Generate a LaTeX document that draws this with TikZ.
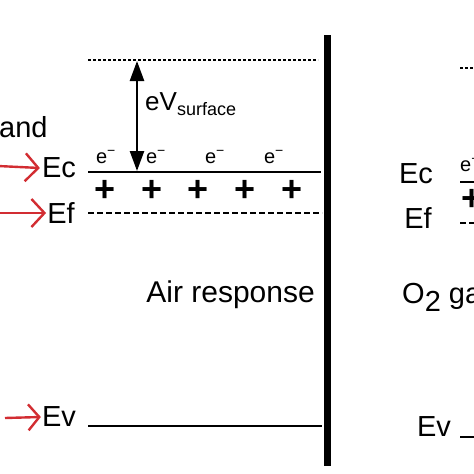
\documentclass[tikz,border=0pt]{standalone}
\usepackage{fontspec}
\setmainfont{Liberation Sans}
\usetikzlibrary{arrows.meta}
\definecolor{redarrow}{RGB}{210,45,50}
\begin{document}
\begin{tikzpicture}[x=1pt,y=-1pt,
  lbl/.style={inner sep=0pt, font=\fontsize{29}{29}\selectfont},
  elec/.style={inner sep=0pt, font=\fontsize{20}{20}\selectfont},
  plus/.style={inner sep=0pt, font=\fontsize{36}{36}\selectfont\bfseries},
  level/.style={line width=2.5pt},
  dotl/.style={line width=2.5pt, dash pattern=on 2.5pt off 2.5pt},
  dashl/.style={line width=2.5pt, dash pattern=on 6pt off 3pt},
  redarr/.style={redarrow, line width=2.4pt, -{Straight Barb[length=13pt,width=28pt,line width=2.4pt]}},
  bar/.style={line width=7pt}]
\useasboundingbox (0,0) rectangle (474,474);

% left labels
\node[lbl, anchor=west] (band) at (-1,127) {and};
\node[lbl] (ec) at (59,168) {Ec};
\node[lbl] (ef) at (61,213) {Ef};
\node[lbl] (ev) at (59,417) {Ev};
\coordinate (ecs) at (-2,166);
\coordinate (efs) at (-2,213);
\coordinate (evs) at (5,418);
\draw[redarr] (ecs) -- ([xshift=-2pt]ec.west);
\draw[redarr] (efs) -- ([xshift=-1pt]ef.west);
\draw[redarr, -{Straight Barb[length=11pt,width=26pt,line width=2.4pt]}] (evs) -- ([xshift=-1pt]ev.west);

% band levels
\coordinate (vl) at (88,60);  \coordinate (vr) at (318,60);
\coordinate (cl) at (88,172); \coordinate (cr) at (321,172);
\coordinate (fl) at (88,213); \coordinate (fr) at (322,213);
\coordinate (bl) at (88,426); \coordinate (br) at (322,426);
\draw[dotl] (vl) -- (vr);
\draw[level] (cl) -- (cr);
\draw[dashl] (fl) -- (fr);
\draw[level] (bl) -- (br);

% surface potential arrow
\coordinate (at) at (137,61);
\coordinate (ab) at (137,171);
\draw[line width=2.5pt, {Triangle[width=14pt,length=20pt]}-{Triangle[width=14pt,length=20pt]}] (at) -- (ab);
\node[inner sep=0pt, anchor=west] (evsurf) at (145,104) {\fontsize{26}{26}\selectfont eV\fontsize{18}{18}\selectfont\raisebox{-5pt}{surface}};

% electrons
\node[elec] (e1) at (106,157) {e\textsuperscript{\char"2212}};
\node[elec] (e2) at (156,157) {e\textsuperscript{\char"2212}};
\node[elec] (e3) at (215,157) {e\textsuperscript{\char"2212}};
\node[elec] (e4) at (274,157) {e\textsuperscript{\char"2212}};

% holes
\node[plus] (p1) at (105,191) {+};
\node[plus] (p2) at (152,191) {+};
\node[plus] (p3) at (198,191) {+};
\node[plus] (p4) at (245,191) {+};
\node[plus] (p5) at (292,191) {+};

% surface bar
\coordinate (bt) at (327.5,35);
\coordinate (bb) at (327.5,466);
\draw[bar] (bt) -- (bb);

\node[lbl, anchor=east] (air) at (315,295) {\fontsize{30}{30}\selectfont Air response};

% right panel (partially visible)
\node[lbl] (ec2) at (416,174) {Ec};
\node[lbl] (ef2) at (418,218) {Ef};
\node[lbl] (ev2) at (434,427) {Ev};
\node[lbl, anchor=west] (o2) at (402,297) {O\raisebox{-8pt}{2} ga};
\coordinate (vl2) at (460,68);  \coordinate (vr2) at (480,68);
\coordinate (cl2) at (460,182); \coordinate (cr2) at (480,182);
\coordinate (fl2) at (460,223); \coordinate (fr2) at (480,223);
\coordinate (bl2) at (460,437); \coordinate (br2) at (480,437);
\draw[dotl] (vl2) -- (vr2);
\draw[level] (cl2) -- (cr2);
\draw[dashl] (fl2) -- (fr2);
\draw[level] (bl2) -- (br2);
\node[elec, anchor=west] (e5) at (460,165) {e\textsuperscript{\char"2212}};
\node[plus] (p6) at (472,200) {+};
\end{tikzpicture}
\end{document}
